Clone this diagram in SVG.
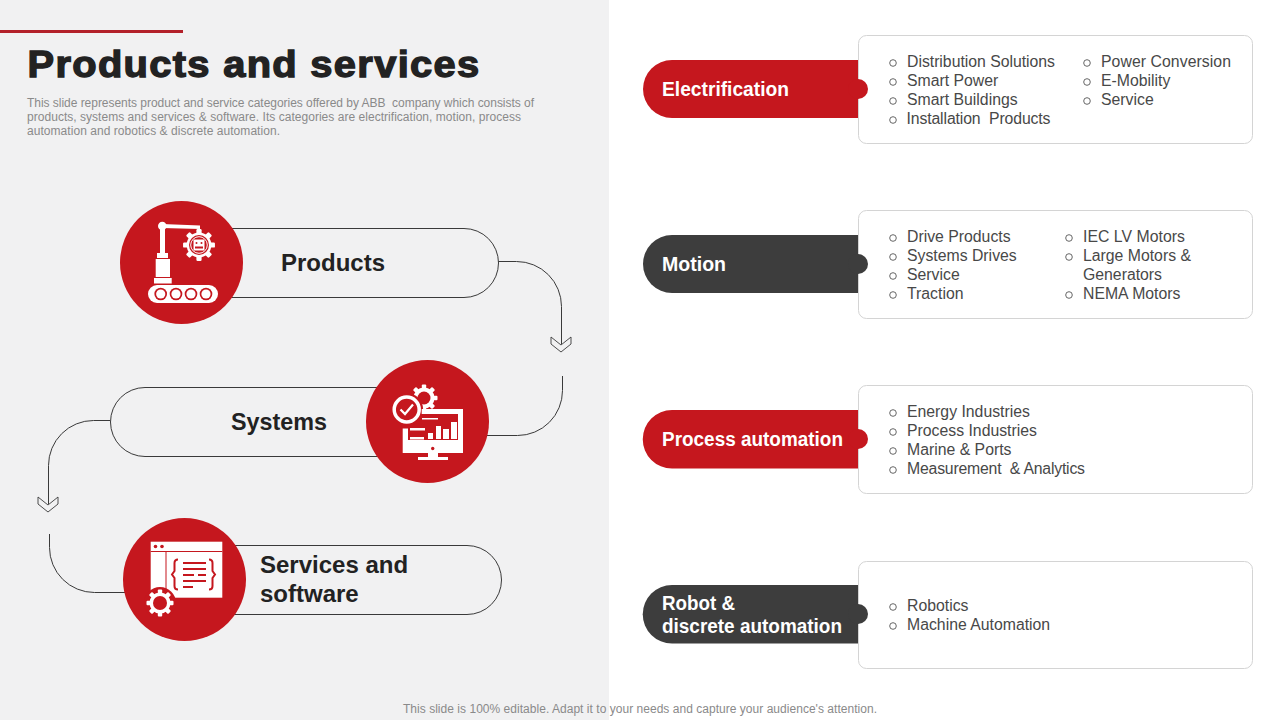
<svg xmlns="http://www.w3.org/2000/svg" width="1280" height="720" viewBox="0 0 1280 720">
<style>
text{font-family:"Liberation Sans",Arial,sans-serif;white-space:pre}
.pill{fill:#f1f1f2;stroke:#3a3a3a;stroke-width:1}
.line{fill:none;stroke:#3a3a3a;stroke-width:1}
.node{font-size:24px;font-weight:700;fill:#222}
.tag{font-size:19.500px;font-weight:700;fill:#fff}
.li{font-size:15.800px;fill:#484848}
.bul{fill:none;stroke:#555;stroke-width:.9}
.box{fill:#fff;stroke:#d4d4d4;stroke-width:1}
.sub{font-size:12px;fill:#8a8a8a}
.w{fill:#fff}
.r{fill:#c5171e}
.rs{fill:none;stroke:#c5171e}
</style>
<defs>
<g id="chev"><path d="M-10,-7 L0,1 L10,-7 L10,0 L0,8 L-10,0 Z" fill="none" stroke="#3a3a3a" stroke-width=".9"/></g>
<g id="gear"><circle r="10.500" class="w"/><g class="w"><rect x="-2.200" y="-13.500" width="4.400" height="27" rx="1"/><rect x="-2.200" y="-13.500" width="4.400" height="27" rx="1" transform="rotate(45)"/><rect x="-2.200" y="-13.500" width="4.400" height="27" rx="1" transform="rotate(90)"/><rect x="-2.200" y="-13.500" width="4.400" height="27" rx="1" transform="rotate(135)"/></g></g>
</defs>
<rect width="1280" height="720" fill="#fff"/>
<rect id="panel" width="609" height="720" fill="#f1f1f2"/>
<rect x="0" y="30" width="183" height="3" fill="#b3202a"/>
<text x="27.500" y="77" font-size="36.500" font-weight="700" fill="#222" stroke="#222" stroke-width="1.300" letter-spacing="1.200" textLength="453" lengthAdjust="spacingAndGlyphs">Products and services</text>
<g class="sub">
<text x="27" y="107" textLength="507" lengthAdjust="spacing">This slide represents product and service categories offered by ABB  company which consists of</text>
<text x="27" y="121" textLength="494" lengthAdjust="spacing">products, systems and services &amp; software. Its categories are electrification, motion, process</text>
<text x="27" y="135" textLength="253" lengthAdjust="spacing">automation and robotics &amp; discrete automation.</text>
</g>
<g id="connectors">
<path class="line" d="M498,261.500 H516.500 A45,45 0 0 1 561.500,306.500 V344"/>
<use href="#chev" x="561" y="344"/>
<path class="line" d="M562.500,376 V390.500 A45,45 0 0 1 517.500,435.500 H485"/>
<path class="line" d="M110,420.500 H93.500 A45,45 0 0 0 48.500,465.500 V504"/>
<use href="#chev" x="48" y="504"/>
<path class="line" d="M49.500,534 V547.500 A45,45 0 0 0 94.500,592.500 H126"/>
</g>
<g id="node-products">
<rect class="pill" x="180" y="228.500" width="318.500" height="69" rx="34.500"/>
<circle class="r" cx="181.500" cy="262.500" r="61.500"/>
<circle class="w" cx="162.300" cy="226" r="4.300"/>
<path class="w" d="M162,224 L200,225.500 V229 L162,228 Z"/>
<rect class="w" x="160" y="229" width="5" height="24"/>
<rect class="w" x="157" y="253" width="11" height="5"/>
<rect class="w" x="155.700" y="259" width="14.300" height="18"/>
<rect class="w" x="154" y="278" width="17.700" height="5.500"/>
<rect class="w" x="148" y="285" width="70" height="18" rx="9"/>
<g class="r"><circle cx="160.700" cy="294" r="6.300"/><circle cx="176" cy="294" r="6.300"/><circle cx="191" cy="294" r="6.300"/><circle cx="206" cy="294" r="6.300"/></g>
<g class="w"><circle cx="160.700" cy="294" r="4.600"/><circle cx="176" cy="294" r="4.600"/><circle cx="191" cy="294" r="4.600"/><circle cx="206" cy="294" r="4.600"/></g>
<g transform="translate(199 245) scale(1.180)"><use href="#gear"/></g>
<circle cx="199" cy="245" r="10" class="r"/>
<circle cx="199" cy="245" r="8.300" fill="none" stroke="#fff" stroke-width="1"/>
<rect x="193.500" y="239.500" width="11" height="11" rx="1" class="w"/>
<circle cx="196.500" cy="243" r="1" class="r"/><circle cx="201.500" cy="243" r="1" class="r"/>
<rect x="195" y="246.500" width="8" height="2" class="r"/>
<text class="node" x="281" y="271">Products</text>
</g>
<g id="node-systems">
<rect class="pill" x="110.500" y="387.500" width="318" height="69" rx="34.500"/>
<circle class="r" cx="427.500" cy="421.500" r="61.500"/>
<use href="#gear" x="424" y="398"/>
<circle cx="424" cy="398" r="6.500" class="r"/>
<circle cx="406.700" cy="409.500" r="16.500" class="r"/>
<circle cx="406.700" cy="409.500" r="12.500" fill="none" stroke="#fff" stroke-width="3.500"/>
<path d="M400.500,409.500 L405,414 L413,404.500" fill="none" stroke="#fff" stroke-width="2.200"/>
<path class="w" d="M421.700,409 H463 V453 H402.700 V428.500 H408 V440 H458 V414 H421.700 Z"/>
<circle class="r" cx="432.700" cy="448.500" r="1.700"/>
<path class="w" d="M428,453 H438 V457 H448 V460 H418 V457 H428 Z"/>
<rect class="w" x="422" y="418" width="16" height="1.500"/>
<rect class="w" x="410" y="428" width="15" height="2.500"/><rect class="w" x="410" y="437" width="14" height="2.500"/>
<rect class="w" x="428" y="433" width="5" height="6"/><rect class="w" x="436" y="426" width="5" height="13"/><rect class="w" x="443" y="429" width="6" height="10"/><rect class="w" x="451" y="422" width="6" height="17"/>
<text class="node" x="231" y="430" textLength="96" lengthAdjust="spacingAndGlyphs">Systems</text>
</g>
<g id="node-services">
<rect class="pill" x="184" y="545.500" width="317.500" height="69" rx="34.500"/>
<circle class="r" cx="184.500" cy="579.500" r="61.500"/>
<rect class="w" x="150.700" y="541.700" width="71.600" height="56"/>
<rect class="r" x="150.700" y="551" width="71.600" height="1"/>
<rect class="r" x="165.500" y="552" width="1" height="40"/>
<circle class="r" cx="155.500" cy="546.500" r="1.800"/><circle class="r" cx="162" cy="546.500" r="1.800"/>
<path class="rs" stroke-width="2" d="M178,559.500 Q174.500,559.500 174.500,563 V571 L172,574.500 L174.500,578 V586 Q174.500,589.500 178,589.500"/>
<path class="rs" stroke-width="2" d="M209,559.500 Q212.500,559.500 212.500,563 V571 L215,574.500 L212.500,578 V586 Q212.500,589.500 209,589.500"/>
<g class="r"><rect x="183" y="562" width="23" height="2"/><rect x="183" y="568" width="23" height="2"/><rect x="183" y="574" width="11" height="2"/><rect x="198" y="574" width="8" height="2"/><rect x="183" y="580" width="23" height="2"/><rect x="183" y="586" width="10" height="2"/></g>
<circle class="r" cx="160" cy="603" r="16"/>
<use href="#gear" x="160" y="603"/>
<circle class="r" cx="160" cy="603" r="7"/>
<text class="node" x="260" y="573">Services and</text>
<text class="node" x="260" y="602">software</text>
</g>
<g id="tag-electrification">
<rect class="box" x="858.500" y="35.500" width="394" height="108" rx="8"/>
<path class="r" d="M858,60 H672 A29,29 0 0 0 672,118 H858 Z"/>
<circle class="r" cx="858" cy="89" r="10"/>
<text class="tag" x="662" y="96" textLength="127" lengthAdjust="spacingAndGlyphs">Electrification</text>
<g class="li">
<text x="907" y="67" textLength="148">Distribution Solutions</text><text x="907" y="86">Smart Power</text><text x="907" y="105">Smart Buildings</text><text x="906.500" y="124" textLength="144">Installation  Products</text>
<text x="1101" y="67" textLength="130">Power Conversion</text><text x="1101" y="86">E-Mobility</text><text x="1101" y="105">Service</text>
</g>
<g class="bul"><circle cx="893" cy="63" r="3.300"/><circle cx="893" cy="82" r="3.300"/><circle cx="893" cy="101" r="3.300"/><circle cx="893" cy="120" r="3.300"/><circle cx="1087" cy="63" r="3.300"/><circle cx="1087" cy="82" r="3.300"/><circle cx="1087" cy="101" r="3.300"/></g>
</g>
<g id="tag-motion">
<rect class="box" x="858.500" y="210.500" width="394" height="108" rx="8"/>
<path fill="#3d3d3d" d="M858,235 H672 A29,29 0 0 0 672,293 H858 Z"/>
<circle fill="#3d3d3d" cx="858" cy="264" r="10"/>
<text class="tag" x="662" y="271" textLength="64" lengthAdjust="spacingAndGlyphs">Motion</text>
<g class="li">
<text x="907" y="242">Drive Products</text><text x="907" y="261">Systems Drives</text><text x="907" y="280">Service</text><text x="907" y="299">Traction</text>
<text x="1083" y="242" textLength="102">IEC LV Motors</text><text x="1083" y="261">Large Motors &amp;</text><text x="1083" y="280">Generators</text><text x="1083" y="299">NEMA Motors</text>
</g>
<g class="bul"><circle cx="893" cy="238" r="3.300"/><circle cx="893" cy="257" r="3.300"/><circle cx="893" cy="276" r="3.300"/><circle cx="893" cy="295" r="3.300"/><circle cx="1069" cy="238" r="3.300"/><circle cx="1069" cy="257" r="3.300"/><circle cx="1069" cy="295" r="3.300"/></g>
</g>
<g id="tag-process">
<rect class="box" x="858.500" y="385.500" width="394" height="108" rx="8"/>
<path class="r" d="M858,410 H672 A29,29 0 0 0 672,468.500 H858 Z"/>
<circle class="r" cx="858" cy="439" r="10"/>
<text class="tag" x="662" y="446" textLength="181" lengthAdjust="spacingAndGlyphs">Process automation</text>
<g class="li">
<text x="907" y="417">Energy Industries</text><text x="907" y="436">Process Industries</text><text x="907" y="455">Marine &amp; Ports</text><text x="907" y="474" textLength="178">Measurement  &amp; Analytics</text>
</g>
<g class="bul"><circle cx="893" cy="413" r="3.300"/><circle cx="893" cy="432" r="3.300"/><circle cx="893" cy="451" r="3.300"/><circle cx="893" cy="470" r="3.300"/></g>
</g>
<g id="tag-robot">
<rect class="box" x="858.500" y="561.500" width="394" height="107" rx="8"/>
<path fill="#3d3d3d" d="M858,585 H672 A29,29 0 0 0 672,643.500 H858 Z"/>
<circle fill="#3d3d3d" cx="858" cy="614" r="10"/>
<text class="tag" x="662" y="610" textLength="73" lengthAdjust="spacingAndGlyphs">Robot &amp;</text>
<text class="tag" x="662" y="633" textLength="180" lengthAdjust="spacingAndGlyphs">discrete automation</text>
<g class="li"><text x="907" y="611">Robotics</text><text x="907" y="630">Machine Automation</text></g>
<g class="bul"><circle cx="893" cy="607" r="3.300"/><circle cx="893" cy="626" r="3.300"/></g>
</g>
<text x="403" y="713" font-size="12" fill="#8a8a8a" textLength="474" lengthAdjust="spacing">This slide is 100% editable. Adapt it to your needs and capture your audience's attention.</text>
</svg>
